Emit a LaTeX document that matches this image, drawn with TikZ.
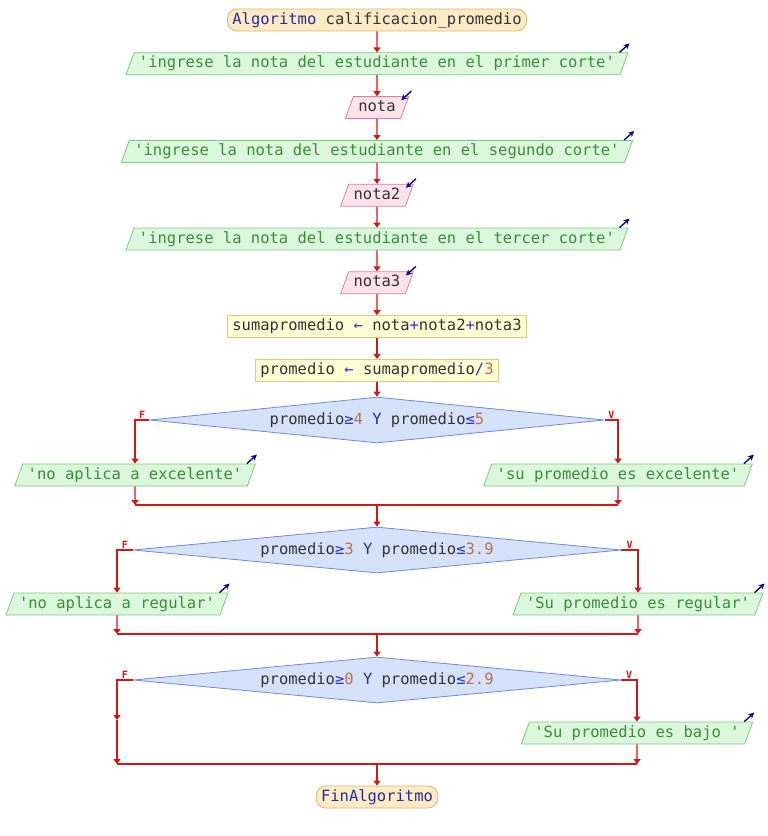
\documentclass[tikz,border=0pt]{standalone}
\usepackage{fontspec}
\setmonofont{DejaVu Sans Mono}
\usetikzlibrary{shapes.geometric,arrows.meta,positioning}

\definecolor{flowred}{HTML}{D01818}
\definecolor{kwblue}{HTML}{2A2AA0}
\definecolor{opblue}{HTML}{3434C8}
\definecolor{numbrown}{HTML}{B8704E}
\definecolor{strgreen}{HTML}{3A8C3A}
\definecolor{vargray}{HTML}{333333}
\definecolor{iconblue}{HTML}{0A0A80}
\definecolor{termfill}{HTML}{FDEBC6}
\definecolor{termdraw}{HTML}{DDB46E}
\definecolor{outfill}{HTML}{DCF8DC}
\definecolor{outdraw}{HTML}{7CC87C}
\definecolor{infill}{HTML}{FFE2EC}
\definecolor{indraw}{HTML}{D880A0}
\definecolor{procfill}{HTML}{FFFFD6}
\definecolor{procdraw}{HTML}{D8CC80}
\definecolor{decfill}{HTML}{D6E2FA}
\definecolor{decdraw}{HTML}{6C8AD8}

\newcommand{\kw}[1]{\textcolor{kwblue}{#1}}
\newcommand{\opc}[1]{\textcolor{opblue}{#1}}
\newcommand{\numc}[1]{\textcolor{numbrown}{#1}}

\tikzset{
  base/.style     ={draw,font=\ttfamily\fontsize{15.5}{16}\selectfont,text=vargray,
                    text height=11.5pt,text depth=3.5pt,inner ysep=3.5pt,
                    inner xsep=5pt,line width=0.8pt},
  startstop/.style={base,rectangle,rounded corners=10pt,fill=termfill,draw=termdraw},
  outp/.style     ={base,trapezium,trapezium left angle=70,trapezium right angle=110,
                    fill=outfill,draw=outdraw,text=strgreen},
  inp/.style      ={base,trapezium,trapezium left angle=70,trapezium right angle=110,
                    fill=infill,draw=indraw},
  process/.style  ={base,rectangle,fill=procfill,draw=procdraw},
  decision/.style ={base,diamond,shape aspect=12,inner sep=0pt,fill=decfill,
                    draw=decdraw,minimum height=46pt},
  arr/.style      ={-{Triangle[length=5pt,width=7pt]},line width=1.3pt,draw=flowred},
  lnk/.style      ={line width=1.3pt,draw=flowred},
  lbl/.style      ={text=flowred,font=\ttfamily\bfseries\fontsize{10}{10}\selectfont,
                    inner sep=1pt},
  icon/.style     ={-{Stealth[length=6pt,width=6pt]},line width=1.4pt,draw=iconblue}
}

\begin{document}
\begin{tikzpicture}[x=1pt,y=-1pt,node distance=21pt]
  \useasboundingbox (0,0) rectangle (768,836);

  % Main column
  \node (start) [startstop] at (377,20) {\kw{Algoritmo} calificacion\_promedio};
  \node (o1)    [outp, below=of start] {'ingrese la nota del estudiante en el primer corte'};
  \node (i1)    [inp, below=of o1]     {nota};
  \node (o2)    [outp, below=of i1]    {'ingrese la nota del estudiante en el segundo corte'};
  \node (i2)    [inp, below=of o2]     {nota2};
  \node (o3)    [outp, below=of i2]    {'ingrese la nota del estudiante en el tercer corte'};
  \node (i3)    [inp, below=of o3]     {nota3};
  \node (suma)  [process, below=of i3] {sumapromedio \opc{←} nota\opc{+}nota2\opc{+}nota3};
  \node (prom)  [process, below=of suma] {promedio \opc{←} sumapromedio\opc{/}\numc{3}};
  \node (d1)    [decision, minimum width=455pt] at (377,420)
                {promedio\opc{≥}\numc{4} \kw{Y} promedio\opc{≤}\numc{5}};

  % Branch nodes
  \node (o1l) [outp] at (135,475) {'no aplica a excelente'};
  \node (o1r) [outp] at (618,475) {'su promedio es excelente'};
  \coordinate (j1) at (377,505);
  \node (d2)  [decision, minimum width=488pt] at (377,550)
              {promedio\opc{≥}\numc{3} \kw{Y} promedio\opc{≤}\numc{3.9}};
  \node (o2l) [outp] at (117,604) {'no aplica a regular'};
  \node (o2r) [outp] at (638,604) {'Su promedio es regular'};
  \coordinate (j2) at (377,634);
  \node (d3)  [decision, minimum width=488pt] at (377,680)
              {promedio\opc{≥}\numc{0} \kw{Y} promedio\opc{≤}\numc{2.9}};
  \coordinate (e3) at (117,720);
  \node (o3r) [outp] at (637,733) {'Su promedio es bajo '};
  \coordinate (j3) at (377,764);
  \node (fin) [startstop] at (377,797) {\kw{FinAlgoritmo}};

  % Icons
  \foreach \n in {o1,o2,o3,o1l,o1r,o2l,o2r,o3r}
    \draw [icon] ([shift={(-9,0)}]\n.top right corner) -- ++(10,-9);
  \foreach \n in {i1,i2,i3}
    \draw [icon] ([shift={(2,-5)}]\n.top right corner) -- ++(-10,9);

  % Arrows
  \draw [arr] (start) -- (o1);
  \draw [arr] (o1) -- (i1);
  \draw [arr] (i1) -- (o2);
  \draw [arr] (o2) -- (i2);
  \draw [arr] (i2) -- (o3);
  \draw [arr] (o3) -- (i3);
  \draw [arr] (i3) -- (suma);
  \draw [arr] (suma) -- (prom);
  \draw [arr] (prom) -- (d1);

  \draw [arr] (d1.west) -| node[lbl, above, pos=0.25] {F} (o1l.north);
  \draw [arr] (d1.east) -| node[lbl, above, pos=0.25] {V} (o1r.north);
  \draw [arr] (o1l.south) -- (o1l |- j1);
  \draw [arr] (o1r.south) -- (o1r |- j1);
  \draw [lnk] (o1l |- j1) -- (o1r |- j1);
  \draw [arr] (j1) -- (d2.north);

  \draw [arr] (d2.west) -| node[lbl, above, pos=0.25] {F} (o2l.north);
  \draw [arr] (d2.east) -| node[lbl, above, pos=0.25] {V} (o2r.north);
  \draw [arr] (o2l.south) -- (o2l |- j2);
  \draw [arr] (o2r.south) -- (o2r |- j2);
  \draw [lnk] (o2l |- j2) -- (o2r |- j2);
  \draw [arr] (j2) -- (d3.north);

  \draw [arr] (d3.west) -| node[lbl, above, pos=0.25] {F} (e3);
  \draw [arr] (d3.east) -| node[lbl, above, pos=0.25] {V} (o3r.north);
  \draw [arr] (e3) -- (e3 |- j3);
  \draw [arr] (o3r.south) -- (o3r |- j3);
  \draw [lnk] (e3 |- j3) -- (o3r |- j3);
  \draw [arr] (j3) -- (fin);
\end{tikzpicture}
\end{document}
